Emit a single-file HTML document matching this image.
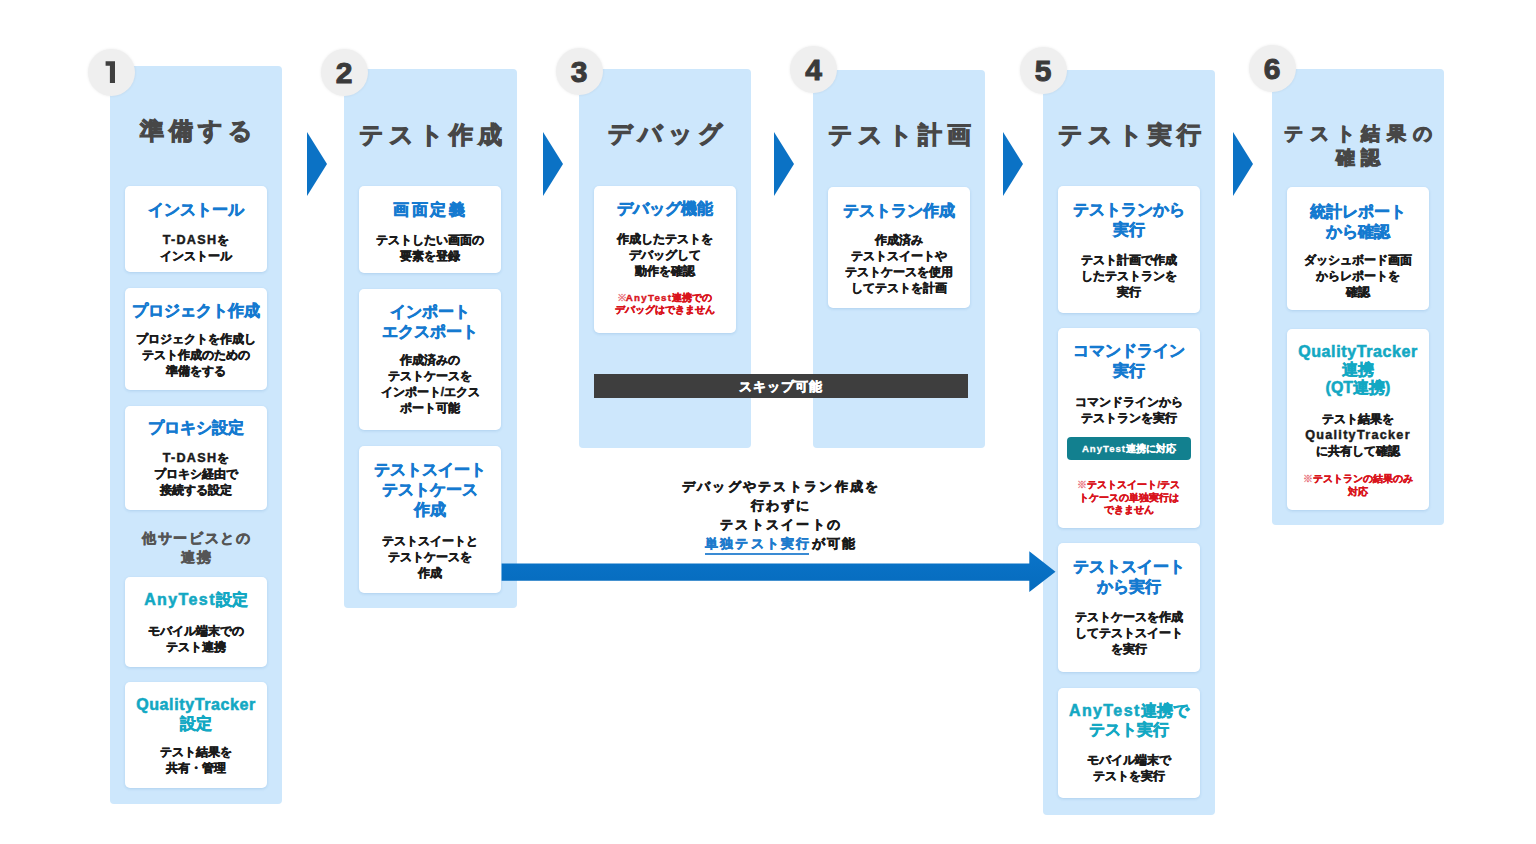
<!DOCTYPE html>
<html><head><meta charset="utf-8"><style>
*{margin:0;padding:0;box-sizing:border-box}
html,body{width:1536px;height:844px;overflow:hidden;background:#fff}
body{position:relative;font-family:"Liberation Sans",sans-serif;font-weight:bold}
.p{position:absolute;background:#cde7fc;border-radius:4px}
.c{position:absolute;background:#fff;border-radius:5px;width:142px;box-shadow:0 1px 3px rgba(40,110,180,.18)}
.n{position:absolute;width:47px;height:47px;border-radius:50%;background:#efefef;box-shadow:0 0 3px rgba(0,0,0,.08);color:#3a3a3a;font-size:30px;line-height:48px;text-align:center;-webkit-text-stroke:1px #3a3a3a}
.t{position:absolute;text-align:center;white-space:nowrap}
.h{color:#474747;letter-spacing:5px;padding-left:5px;font-size:24px;line-height:30px;-webkit-text-stroke:1px #474747}
.ct{font-size:16px;line-height:20px;-webkit-text-stroke:.55px currentColor}
.b{color:#1b1b1b;font-size:12px;line-height:16px;-webkit-text-stroke:.45px #1b1b1b}
.r{color:#d9141c;font-size:9.8px;line-height:12.6px;-webkit-text-stroke:.4px #d9141c}
.km{color:#e8707a;-webkit-text-stroke:0}
.L{letter-spacing:.6px}
.L2{letter-spacing:1.4px}
.BL{letter-spacing:1.3px;font-size:12.6px}
.tri{position:absolute;width:0;height:0;border-top:32px solid transparent;border-bottom:32px solid transparent;border-left:20px solid #0b72c5}
</style></head><body>
<div class="p" style="left:110px;top:66px;width:172px;height:737.5px"></div>
<div class="p" style="left:344px;top:69px;width:172.5px;height:539.4px"></div>
<div class="p" style="left:578.5px;top:69px;width:172.5px;height:378.5px"></div>
<div class="p" style="left:813px;top:69.5px;width:172px;height:378px"></div>
<div class="p" style="left:1043px;top:69.5px;width:171.5px;height:745px"></div>
<div class="p" style="left:1272px;top:69px;width:172px;height:455.5px"></div>
<div class="tri" style="left:306.8px;top:132px"></div>
<div class="tri" style="left:542.6px;top:132px"></div>
<div class="tri" style="left:773.9px;top:132px"></div>
<div class="tri" style="left:1002.6px;top:132px"></div>
<div class="tri" style="left:1232.8px;top:132px"></div>
<div class="t h" style="left:96px;width:200px;top:116.30px">準備する</div>
<div class="t h" style="left:330px;width:200px;top:120.10px">テスト作成</div>
<div class="t h" style="left:565px;width:200px;top:118.70px">デバッグ</div>
<div class="t h" style="left:799px;width:200px;top:119.80px">テスト計画</div>
<div class="t h" style="left:1029px;width:200px;top:119.80px">テスト実行</div>
<div class="t h" style="left:1258px;width:200px;top:122.20px;font-size:19px;line-height:24px;letter-spacing:6.8px;padding-left:6.8px">テスト結果の<br>確認</div>
<div class="t" style="left:96px;width:200px;top:529.4px;font-size:14px;line-height:19px;color:#555;letter-spacing:1.6px;padding-left:1.6px;-webkit-text-stroke:.6px #555">他サービスとの<br>連携</div>
<div class="c" style="left:125px;top:185.6px;height:86.7px"></div>
<div class="t ct" style="left:105px;width:182px;top:199.50px;color:#157ad0">インストール</div>
<div class="t b" style="left:105px;width:182px;top:231.80px"><span class=BL>T-DASH</span>を<br>インストール</div>
<div class="c" style="left:125px;top:288px;height:102.4px"></div>
<div class="t ct" style="left:105px;width:182px;top:300.60px;color:#157ad0">プロジェクト作成</div>
<div class="t b" style="left:105px;width:182px;top:330.80px">プロジェクトを作成し<br>テスト作成のための<br>準備をする</div>
<div class="c" style="left:125px;top:405.6px;height:104.4px"></div>
<div class="t ct" style="left:105px;width:182px;top:417.70px;color:#157ad0">プロキシ設定</div>
<div class="t b" style="left:105px;width:182px;top:449.70px"><span class=BL>T-DASH</span>を<br>プロキシ経由で<br>接続する設定</div>
<div class="c" style="left:125px;top:577.2px;height:89.6px"></div>
<div class="t ct" style="left:105px;width:182px;top:589.50px;color:#13a8c3;line-height:19px"><span class=L2>AnyTest</span>設定</div>
<div class="t b" style="left:105px;width:182px;top:623.10px">モバイル端末での<br>テスト連携</div>
<div class="c" style="left:125px;top:682.2px;height:105.8px"></div>
<div class="t ct" style="left:105px;width:182px;top:695.40px;color:#13a8c3;line-height:19px"><span class=L>QualityTracker</span><br>設定</div>
<div class="t b" style="left:105px;width:182px;top:743.60px">テスト結果を<br>共有・管理</div>
<div class="c" style="left:359.3px;top:186.3px;height:86.7px"></div>
<div class="t ct" style="left:339.3px;width:182px;top:199.50px;color:#157ad0"><span style='letter-spacing:2.5px'>画面定義</span></div>
<div class="t b" style="left:339.3px;width:182px;top:231.50px">テストしたい画面の<br>要素を登録</div>
<div class="c" style="left:359.3px;top:288.6px;height:141.9px"></div>
<div class="t ct" style="left:339.3px;width:182px;top:301.80px;color:#157ad0">インポート<br>エクスポート</div>
<div class="t b" style="left:339.3px;width:182px;top:352.30px">作成済みの<br>テストケースを<br>インポート/エクス<br>ポート可能</div>
<div class="c" style="left:359.3px;top:445.8px;height:147.5px"></div>
<div class="t ct" style="left:339.3px;width:182px;top:459.70px;color:#157ad0">テストスイート<br>テストケース<br>作成</div>
<div class="t b" style="left:339.3px;width:182px;top:532.70px">テストスイートと<br>テストケースを<br>作成</div>
<div class="c" style="left:594px;top:186px;height:146.7px"></div>
<div class="t ct" style="left:574px;width:182px;top:199.40px;color:#157ad0">デバッグ機能</div>
<div class="t b" style="left:574px;width:182px;top:230.50px">作成したテストを<br>デバッグして<br>動作を確認</div>
<div class="t r" style="left:574px;width:182px;top:291.90px"><span class=km>※</span><span style='letter-spacing:1.2px'>AnyTest</span>連携での<br>デバッグはできません</div>
<div class="c" style="left:828.3px;top:186.8px;height:120.9px"></div>
<div class="t ct" style="left:808.3px;width:182px;top:200.80px;color:#157ad0">テストラン作成</div>
<div class="t b" style="left:808.3px;width:182px;top:231.80px">作成済み<br>テストスイートや<br>テストケースを使用<br>してテストを計画</div>
<div class="c" style="left:1057.8px;top:186px;height:126.8px"></div>
<div class="t ct" style="left:1037.8px;width:182px;top:200.00px;color:#157ad0">テストランから<br>実行</div>
<div class="t b" style="left:1037.8px;width:182px;top:251.80px">テスト計画で作成<br>したテストランを<br>実行</div>
<div class="c" style="left:1057.8px;top:328px;height:199.7px"></div>
<div class="t ct" style="left:1037.8px;width:182px;top:341.20px;color:#157ad0">コマンドライン<br>実行</div>
<div class="t b" style="left:1037.8px;width:182px;top:394.20px">コマンドラインから<br>テストランを実行</div>
<div style="position:absolute;left:1067px;top:436.6px;width:124px;height:23.7px;border-radius:4px;background:#12808f;color:#fff;font-size:9.6px;line-height:24px;text-align:center;-webkit-text-stroke:.3px #fff"><span style='letter-spacing:1px'>AnyTest</span>連携に対応</div>
<div class="t r" style="left:1037.8px;width:182px;top:479.10px"><span class=km>※</span>テストスイート/テス<br>トケースの単独実行は<br>できません</div>
<div class="c" style="left:1057.8px;top:542.8px;height:129.4px"></div>
<div class="t ct" style="left:1037.8px;width:182px;top:556.90px;color:#157ad0">テストスイート<br>から実行</div>
<div class="t b" style="left:1037.8px;width:182px;top:609.30px">テストケースを作成<br>してテストスイート<br>を実行</div>
<div class="c" style="left:1057.8px;top:687.9px;height:110.2px"></div>
<div class="t ct" style="left:1037.8px;width:182px;top:701.00px;color:#13a8c3;line-height:19px"><span class=L2>AnyTest</span>連携で<br>テスト実行</div>
<div class="t b" style="left:1037.8px;width:182px;top:751.60px">モバイル端末で<br>テストを実行</div>
<div class="c" style="left:1287px;top:186.8px;height:123.2px"></div>
<div class="t ct" style="left:1267px;width:182px;top:201.70px;color:#157ad0">統計レポート<br>から確認</div>
<div class="t b" style="left:1267px;width:182px;top:251.80px">ダッシュボード画面<br>からレポートを<br>確認</div>
<div class="c" style="left:1287px;top:328.5px;height:181.0px"></div>
<div class="t ct" style="left:1267px;width:182px;top:342.60px;color:#13a8c3;line-height:18.3px"><span class=L>QualityTracker</span><br>連携<br>(QT連携)</div>
<div class="t b" style="left:1267px;width:182px;top:410.60px">テスト結果を<br><span class=BL>QualityTracker</span><br>に共有して確認</div>
<div class="t r" style="left:1267px;width:182px;top:473.40px"><span class=km>※</span>テストランの結果のみ<br>対応</div>
<div class="n" style="left:87.5px;top:48.5px"></div>
<svg style="position:absolute;left:0;top:0" width="200" height="120"><path d="M109.9 61.3H115V83.1H109.9V65.8H105.6V61.3Z" fill="#3f3f3f"/></svg>
<div class="n" style="left:320.5px;top:48.5px">2</div>
<div class="n" style="left:555.5px;top:47.9px">3</div>
<div class="n" style="left:790.2px;top:45.8px">4</div>
<div class="n" style="left:1019.5px;top:46.5px">5</div>
<div class="n" style="left:1248.5px;top:45.0px">6</div>
<div style="position:absolute;left:594px;top:374px;width:374px;height:24px;background:#3e3e3e;color:#fff;font-size:13px;line-height:25px;text-align:center;letter-spacing:1px;-webkit-text-stroke:.5px #fff">スキップ可能</div>
<div class="t" style="left:580px;width:400px;top:476.5px;font-size:13px;line-height:19px;color:#1b1b1b;letter-spacing:2.3px;padding-left:2.3px;-webkit-text-stroke:.5px #1b1b1b">デバッグやテストラン作成を<br>行わずに<br>テストスイートの<br><span style="color:#1e7bcc;-webkit-text-stroke:.5px #1e7bcc">単独テスト実行</span>が可能</div>
<div style="position:absolute;left:704.5px;top:553.4px;width:104.8px;height:2px;background:#3a8bd4"></div>
<svg style="position:absolute;left:0;top:0" width="1536" height="844"><defs><linearGradient id="g" x1="0" y1="0" x2="0" y2="1"><stop offset="0" stop-color="#0a74c9"/><stop offset="1" stop-color="#066bbd"/></linearGradient></defs><path d="M501.6 563.5H1029.3V551.3L1055.5 571.8L1029.3 592.1V580.7H501.6Z" fill="url(#g)"/></svg>
</body></html>
